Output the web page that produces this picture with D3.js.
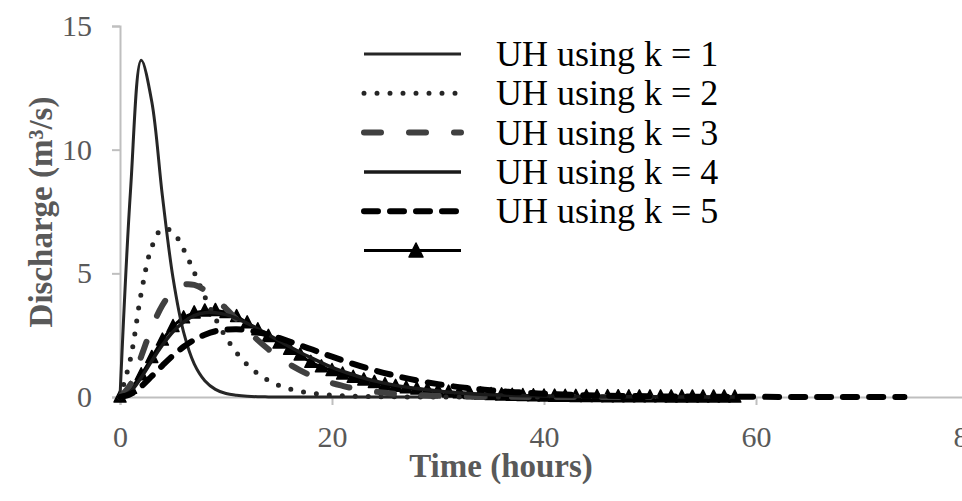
<!DOCTYPE html>
<html>
<head>
<meta charset="utf-8">
<script src="https://cdn.jsdelivr.net/npm/d3@7"></script>
<style>
  html, body { margin: 0; padding: 0; background: #fff; }
  svg { display: block; }
</style>
</head>
<body>
<div id="chart"></div>
<script>
// hours and discharge (m3/s)
var timeK1 = [0,1,2,3,4,5,6,7,8,9,10,11,12,13,14,16,18,20,25,30];
var qK1 = [0,8.40,13.62,11.94,8.13,4.82,2.62,1.34,0.66,0.31,0.14,0.07,0.03,0.01,0.005,0,0,0,0,0];

var timeK2 = [0,1,2,3,4,5,6,7,8,9,10,11,12,13,14,15,16,17,18,19,20,21,22,23,24,26,28,30,35,40];
var qK2 = [0,1.57,4.20,6.07,6.81,6.66,5.97,5.04,4.06,3.17,2.41,1.79,1.31,0.94,0.67,0.47,0.33,0.23,0.155,0.106,0.07,0.047,0.032,0.02,0.014,0.006,0.003,0.001,0,0];

var timeK3 = [0,1,2,3,4,5,6,7,8,9,10,11,12,13,14,15,16,17,18,19,20,21,22,23,24,25,26,27,28,29,30,32,34,36,40,45,50];
var qK3 = [0,0.52,1.64,2.80,3.71,4.29,4.54,4.53,4.32,3.98,3.57,3.14,2.71,2.30,1.93,1.61,1.32,1.08,0.87,0.70,0.56,0.45,0.35,0.28,0.22,0.17,0.13,0.10,0.08,0.06,0.048,0.028,0.016,0.01,0.003,0.001,0];

var timeK4 = [0,1,2,3,4,5,6,7,8,9,10,11,12,13,14,15,16,17,18,19,20,22,24,26,28,30,32,34,36,38,40,44,48,52,58];
var qK4 = [0,0.23,0.79,1.46,2.10,2.64,3.03,3.29,3.41,3.41,3.33,3.18,2.98,2.76,2.52,2.27,2.03,1.80,1.59,1.39,1.20,0.90,0.65,0.47,0.34,0.24,0.16,0.11,0.078,0.053,0.036,0.016,0.007,0.003,0.001];

var timeK5 = [0,1,2,3,4,5,6,7,8,9,10,11,12,13,14,15,16,17,18,19,20,22,24,26,28,30,32,34,36,38,40,44,48,52,56,60,64,68,74];
var qK5 = [0,0.12,0.43,0.84,1.27,1.68,2.03,2.31,2.52,2.66,2.72,2.74,2.70,2.62,2.52,2.39,2.24,2.09,1.94,1.78,1.63,1.34,1.08,0.86,0.67,0.52,0.40,0.31,0.23,0.18,0.13,0.072,0.039,0.021,0.011,0.006,0.003,0.0015,0.0005];

// triangle series, one point per hour 0..58
var qTri = [0,0.35,0.9,1.6,2.3,2.85,3.2,3.4,3.48,3.5,3.42,3.25,3.0,2.72,2.45,2.18,1.93,1.7,1.4,1.22,1.07,0.93,0.8,0.69,0.59,0.5,0.43,0.37,0.32,0.28,0.24,0.2,0.17,0.14,0.12,0.1,0.085,0.07,0.06,0.05,0.04,0.035,0.03,0.025,0.02,0.017,0.014,0.012,0.01,0.008,0.007,0.006,0.005,0.004,0.003,0.003,0.002,0.002,0.001];
var timeTri = qTri.map(function(d, i) { return i; });

var legendLabels = ["UH using k = 1", "UH using k = 2", "UH using k = 3", "UH using k = 4", "UH using k = 5", ""];
var xTicks = [0, 20, 40, 60, 80];
var yTicks = [0, 5, 10, 15];

var W = 962, H = 501;
var serif = "'Liberation Serif', 'Times New Roman', serif";

var svg = d3.select("#chart").append("svg")
    .attr("width", W)
    .attr("height", H);

svg.append("rect").attr("width", W).attr("height", H).attr("fill", "#fff");

var x = d3.scaleLinear().domain([0, 80]).range([120, 968]);
var y = d3.scaleLinear().domain([0, 15]).range([397, 26]);

// axes
var gx = svg.append("g")
    .attr("transform", "translate(0," + y(0) + ")")
    .call(d3.axisBottom(x).tickValues(xTicks).tickSize(8).tickFormat(d3.format("d")));
var gy = svg.append("g")
    .attr("transform", "translate(" + x(0) + ",0)")
    .call(d3.axisLeft(y).tickValues(yTicks).tickSize(8).tickFormat(d3.format("d")));

[gx, gy].forEach(function(g) {
    g.select(".domain").attr("stroke", "#bfbfbf").attr("stroke-width", 2);
    g.selectAll(".tick line").attr("stroke", "#bfbfbf").attr("stroke-width", 2);
    g.selectAll(".tick text")
        .attr("fill", "#595959")
        .style("font-family", serif)
        .style("font-size", "30px");
});
gx.selectAll(".tick text").attr("y", 50).attr("dy", null);
gy.selectAll(".tick text").attr("x", -28).attr("dy", "0.32em");

// axis titles
svg.append("text")
    .attr("transform", "translate(52,212) rotate(-90)")
    .attr("text-anchor", "middle")
    .attr("fill", "#595959")
    .style("font-family", serif)
    .style("font-weight", "bold")
    .style("font-size", "33px")
    .text("Discharge (m³/s)");

svg.append("text")
    .attr("x", 501)
    .attr("y", 477)
    .attr("text-anchor", "middle")
    .attr("fill", "#595959")
    .style("font-family", serif)
    .style("font-weight", "bold")
    .style("font-size", "33px")
    .text("Time (hours)");

// series
var series = [
    { t: timeTri, q: qTri, color: "#000", width: 3, dash: null, marker: true },
    { t: timeK1, q: qK1, color: "#262626", width: 3, dash: null },
    { t: timeK2, q: qK2, color: "#262626", width: 5, dash: "0 13" },
    { t: timeK3, q: qK3, color: "#404040", width: 6, dash: "17 28" },
    { t: timeK4, q: qK4, color: "#1a1a1a", width: 3.5, dash: null },
    { t: timeK5, q: qK5, color: "#000", width: 6, dash: "14 12" }
];

var line = d3.line()
    .x(function(d) { return x(d[0]); })
    .y(function(d) { return y(d[1]); })
    .curve(d3.curveCatmullRom.alpha(0.5));

var tri = "M0,-7L6,5L-6,5Z";

var plot = svg.append("g");
series.forEach(function(s) {
    var pts = s.t.map(function(t, i) { return [t, s.q[i]]; });
    plot.append("path")
        .datum(pts)
        .attr("d", line)
        .attr("fill", "none")
        .attr("stroke", s.color)
        .attr("stroke-width", s.width)
        .attr("stroke-linecap", s.dash ? "round" : "butt")
        .attr("stroke-linejoin", "round")
        .attr("stroke-dasharray", s.dash);
    if (s.marker) {
        plot.selectAll(null)
            .data(pts)
            .enter().append("path")
            .attr("d", tri)
            .attr("transform", function(d) { return "translate(" + x(d[0]) + "," + y(d[1]) + ")"; })
            .attr("fill", "#000")
            .attr("stroke", "#000")
            .attr("stroke-width", 1.5)
            .attr("stroke-linejoin", "round");
    }
});

// legend (order as in the picture)
var legendStyles = [series[1], series[2], series[3], series[4], series[5], series[0]];
var legend = svg.append("g");
legendStyles.forEach(function(s, i) {
    var ly = 54 + i * 39.3;
    legend.append("line")
        .attr("x1", 364).attr("x2", 461)
        .attr("y1", ly).attr("y2", ly)
        .attr("stroke", s.color)
        .attr("stroke-width", s.width)
        .attr("stroke-linecap", s.dash ? "round" : "butt")
        .attr("stroke-dasharray", s.dash);
    if (s.marker) {
        legend.append("path")
            .attr("d", "M0,-7.5L7,6.5L-7,6.5Z")
            .attr("transform", "translate(416," + ly + ")")
            .attr("fill", "#000")
            .attr("stroke", "#000")
            .attr("stroke-width", 1.5)
            .attr("stroke-linejoin", "round");
    }
    legend.append("text")
        .attr("x", 496)
        .attr("y", ly + 12)
        .attr("fill", "#000")
        .style("font-family", serif)
        .style("font-size", "36px")
        .text(legendLabels[i]);
});
</script>
</body>
</html>
